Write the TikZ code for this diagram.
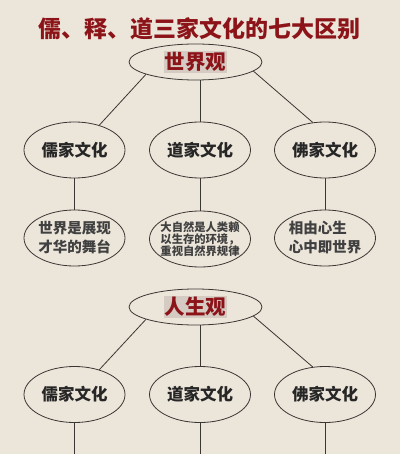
\documentclass[tikz,border=0pt]{standalone}
\usepackage{fontspec}
\setmainfont{Noto Sans CJK SC}
\usetikzlibrary{shapes.geometric}
\definecolor{bgc}{HTML}{ECE5DA}
\definecolor{titlered}{HTML}{8C1419}
\definecolor{hl}{HTML}{D5CBC3}
\definecolor{linec}{HTML}{3A3633}
\tikzset{
  ov/.style={draw=linec, line width=0.8pt, ellipse, inner sep=0pt},
  headov/.style={ov, minimum width=133pt, minimum height=36pt},
  rowov/.style={ov, minimum width=101pt, minimum height=56pt},
  conn/.style={draw=linec, line width=0.8pt},
  rowtxt/.style={font=\bfseries\fontsize{16.5}{18}\selectfont, text=black!85},
  headtxt/.style={font=\bfseries\fontsize{20.5}{22}\selectfont, text=titlered, fill=hl, inner sep=1pt},
  desc/.style={font=\bfseries\fontsize{14.5}{19}\selectfont, text=black!75, align=left},
  descs/.style={font=\bfseries\fontsize{11.3}{12}\selectfont, text=black!75, align=left}
}
\begin{document}
\begin{tikzpicture}[x=1pt,y=-1pt]
\fill[bgc] (0,0) rectangle (400,454);
\useasboundingbox (0,0) rectangle (400,454);
\node[font=\bfseries\fontsize{23}{25}\selectfont, text=titlered] (title) at (199,29) {儒、释、道三家文化的七大区别};
% section 1
\node[headov] (w) at (195.5,62) {};
\node[headtxt] (wt) at (w.center) {世界观};
\node[rowov] (a1) at (74.5,150) {};
\node[rowov] (b1) at (200,150) {};
\node[rowov] (c1) at (325,150) {};
\node[rowtxt] at (a1) {儒家文化};
\node[rowtxt] at (b1) {道家文化};
\node[rowtxt] at (c1) {佛家文化};
\node[rowov] (a2) at (74.5,238) {};
\node[rowov] (b2) at (200,239) {};
\node[rowov] (c2) at (325,238) {};
\node[desc] at (a2) {世界是展现\\才华的舞台};
\node[descs] at (b2) {大自然是人类赖\\以生存的环境，\\重视自然界规律};
\node[desc] at (c2) {相由心生\\心中即世界};
\draw[conn] (w.194) -- (a1.45);
\draw[conn] (w.south -| b1.north) -- (b1.north);
\draw[conn] (w.-9) -- (c1.114);
\draw[conn] (a1.south) -- (a2.north);
\draw[conn] (b1.south) -- (b2.north);
\draw[conn] (c1.south) -- (c2.north);
% section 2
\node[headov] (l) at (195.5,307) {};
\node[headtxt] (lt) at (l.center) {人生观};
\node[rowov] (a3) at (74.5,394.5) {};
\node[rowov] (b3) at (200,394.5) {};
\node[rowov] (c3) at (325,394.5) {};
\node[rowtxt] at (a3) {儒家文化};
\node[rowtxt] at (b3) {道家文化};
\node[rowtxt] at (c3) {佛家文化};
\coordinate (ea) at (73,460);
\coordinate (eb) at (202,460);
\coordinate (ec) at (326,460);
\draw[conn] (l.194) -- (a3.45);
\draw[conn] (l.south -| b3.north) -- (b3.north);
\draw[conn] (l.-9) -- (c3.114);
\draw[conn] (a3.south) -- (a3.south |- ea);
\draw[conn] (b3.south) -- (b3.south |- eb);
\draw[conn] (c3.south) -- (c3.south |- ec);
\end{tikzpicture}
\end{document}
